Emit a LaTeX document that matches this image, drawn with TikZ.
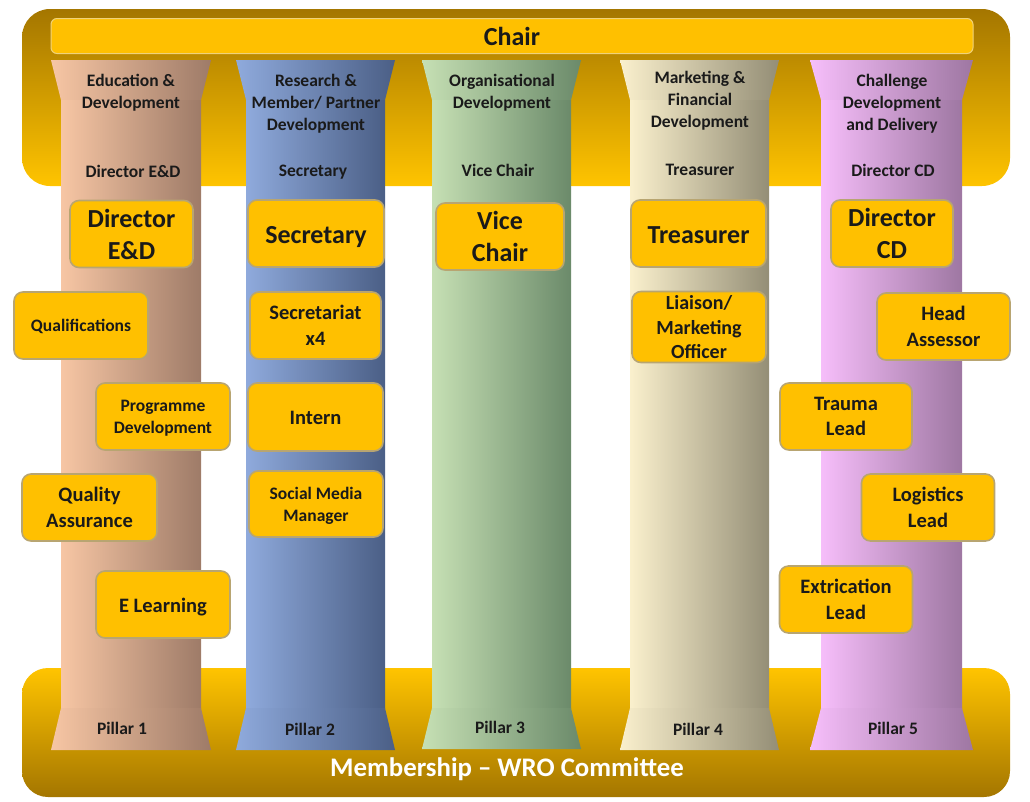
\documentclass[tikz,border=0pt]{standalone}
\usepackage{fontspec}
\setmainfont{Carlito}
\usepackage{tikz}

\definecolor{gold}{HTML}{FFC000}
\definecolor{bandhi}{HTML}{FFC400}
\definecolor{bandlo}{HTML}{A47600}
\definecolor{barline}{HTML}{F0D27A}
\definecolor{roleline}{HTML}{B8A571}
\definecolor{ink}{HTML}{1A1A1A}
\definecolor{p1l}{HTML}{F7C6A4}
\definecolor{p1r}{HTML}{9E7B68}
\definecolor{p2l}{HTML}{8FAADC}
\definecolor{p2r}{HTML}{4B5F86}
\definecolor{p3l}{HTML}{C6E0B4}
\definecolor{p3r}{HTML}{6B8A6A}
\definecolor{p4l}{HTML}{FAF0CD}
\definecolor{p4r}{HTML}{948E76}
\definecolor{p5l}{HTML}{F6BEFA}
\definecolor{p5r}{HTML}{9E77A2}

\begin{document}
\begin{tikzpicture}[
  x=1pt, y=-1pt,
  bar/.style={draw=barline, fill=gold, rounded corners=6pt, line width=1pt,
              inner sep=0pt},
  role/.style={draw=roleline, fill=gold, rounded corners=9pt, line width=1.6pt,
               inner sep=0pt, align=center, text=ink, text depth=0pt,
               font=\bfseries\fontsize{20.5}{25.5}\selectfont},
  rolebig/.style={role, font=\bfseries\fontsize{26}{32}\selectfont},
  rolesm/.style={role, font=\bfseries\fontsize{17.5}{22}\selectfont},
  onebig/.style={text height=20pt, text depth=0pt},
  onemid/.style={text height=15.2pt, text depth=0pt},
  two/.style={execute at begin node={\rule{0pt}{18.8pt}}},
  hd/.style={align=center, anchor=north, inner sep=0pt, text=ink,
             font=\bfseries\fontsize{17.5}{22}\selectfont},
  lbl/.style={anchor=base, inner sep=0pt, text=ink,
              font=\bfseries\fontsize{17.5}{21}\selectfont},
  p1/.style={left color=p1l, right color=p1r},
  p2/.style={left color=p2l, right color=p2r},
  p3/.style={left color=p3l, right color=p3r},
  p4/.style={left color=p4l, right color=p4r},
  p5/.style={left color=p5l, right color=p5r}
]
\useasboundingbox (0,0) rectangle (1030,801);

% ---------- roof and floor ----------
\shade[top color=bandlo, bottom color=bandhi, rounded corners=28pt]
  (22,9) rectangle (1010,186);
\shade[top color=bandhi, bottom color=bandlo, rounded corners=26pt]
  (22,668) rectangle (1010,797);

\node[bar, minimum width=922, minimum height=35] (chair) at (512,36) {};
\node[anchor=base, inner sep=0pt, text=ink, font=\bfseries\fontsize{26}{30}\selectfont]
  (chairtxt) at (512,45.5) {Chair};
\node[anchor=base, inner sep=0pt, text=white, font=\bfseries\fontsize{26.8}{30}\selectfont]
  (memb) at (507,776.5) {Membership -- WRO Committee};

% ---------- pillars ----------
\shade[p1] (51,60) -- (211,60) -- (201,100) -- (61,100) -- cycle;
\shade[p1] (61,100) rectangle (201,708);
\shade[p1] (61,708) -- (201,708) -- (211,750) -- (51,750) -- cycle;

\shade[p2] (236,60) -- (395,60) -- (385,100) -- (246,100) -- cycle;
\shade[p2] (246,100) rectangle (385,708);
\shade[p2] (246,708) -- (385,708) -- (395,750) -- (236,750) -- cycle;

\shade[p3] (422,60) -- (581,60) -- (571,100) -- (432,100) -- cycle;
\shade[p3] (432,100) rectangle (571,708);
\shade[p3] (432,708) -- (571,708) -- (581,749) -- (422,749) -- cycle;

\shade[p4] (620,60) -- (779,60) -- (769,100) -- (630,100) -- cycle;
\shade[p4] (630,100) rectangle (769,708);
\shade[p4] (630,708) -- (769,708) -- (779,750) -- (620,750) -- cycle;

\shade[p5] (810,60) -- (973,60) -- (962,100) -- (821,100) -- cycle;
\shade[p5] (821,100) rectangle (962,708);
\shade[p5] (821,708) -- (962,708) -- (973,750) -- (810,750) -- cycle;

% ---------- pillar headings ----------
\node[hd] (h1) at (131,74) {Education \&\\Development};
\node[hd] (h2) at (316,74) {Research \&\\Member/ Partner\\Development};
\node[hd] (h3) at (502,74) {Organisational\\Development};
\node[hd] (h4) at (700,71) {Marketing \&\\Financial\\Development};
\node[hd] (h5) at (892,74) {Challenge\\Development\\and Delivery};

\node[lbl] (l1) at (133,177) {Director E\&D};
\node[lbl] (l2) at (313,176) {Secretary};
\node[lbl] (l3) at (498,176) {Vice Chair};
\node[lbl] (l4) at (700,175) {Treasurer};
\node[lbl] (l5) at (893,176) {Director CD};

\node[lbl] (b1) at (122,734) {Pillar 1};
\node[lbl] (b2) at (310,735) {Pillar 2};
\node[lbl] (b3) at (500,733) {Pillar 3};
\node[lbl] (b4) at (698,735) {Pillar 4};
\node[lbl] (b5) at (893,734) {Pillar 5};

% ---------- pillar 1 ----------
\node[rolebig, minimum width=123, minimum height=67] (ded)  at (131.5,234) {Director\\E\&D};
\node[rolesm,  minimum width=134, minimum height=67,
      text height=12.2pt, text depth=0pt]            (qual) at (81,325.5) {Qualifications};
\node[rolesm,  minimum width=134, minimum height=67] (prog) at (163,416.5) {Programme\\Development};
\node[role, two, minimum width=135, minimum height=67] (qa)  at (89.5,507.5) {Quality\\Assurance};
\node[role, onemid, minimum width=134, minimum height=67] (elrn) at (163,604.5) {E Learning};

% ---------- pillar 2 ----------
\node[rolebig, onebig, minimum width=136, minimum height=67] (sec) at (316,233.5) {Secretary};
\node[role, two, minimum width=131, minimum height=67] (sect) at (315.5,325.5) {Secretariat\\x4};
\node[role, onemid, minimum width=135, minimum height=68] (intr) at (315.5,417) {Intern};
\node[rolesm,  minimum width=134, minimum height=66] (smm)  at (316,504) {Social Media\\Manager};

% ---------- pillar 3 ----------
\node[rolebig, minimum width=128, minimum height=67] (vch)  at (500,236.5) {Vice\\Chair};

% ---------- pillar 4 ----------
\node[rolebig, onebig, minimum width=135, minimum height=67] (tre) at (698.5,233.5) {Treasurer};
\node[role, minimum width=134, minimum height=71,
      font=\bfseries\fontsize{20}{24.5}\selectfont]  (liai) at (699,327) {Liaison/\\Marketing\\Officer};

% ---------- pillar 5 ----------
\node[rolebig, minimum width=122, minimum height=67] (dcd)  at (892,233.5) {Director\\CD};
\node[role, two, minimum width=133, minimum height=67] (hass) at (943.5,326.5) {Head\\Assessor};
\node[role, two, minimum width=132, minimum height=67] (trl)  at (846,416.5) {Trauma\\Lead};
\node[role, two, minimum width=133, minimum height=67] (logl) at (928,507.5) {Logistics\\Lead};
\node[role, two, minimum width=133, minimum height=67] (extl) at (846,599.5) {Extrication\\Lead};

\end{tikzpicture}
\end{document}
